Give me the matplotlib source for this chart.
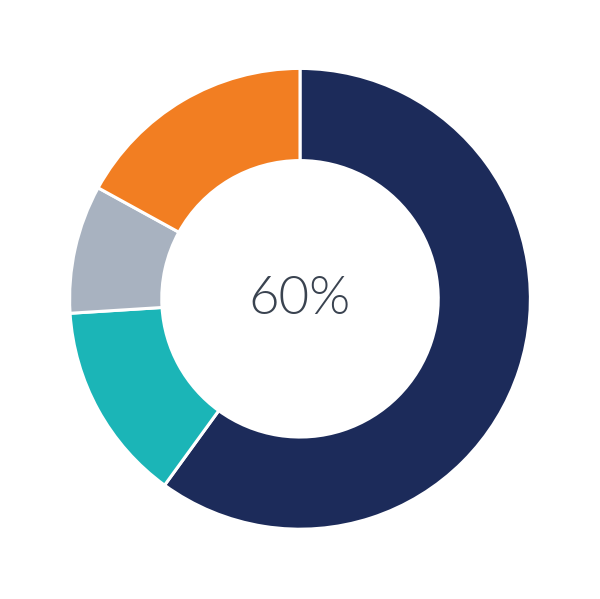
import matplotlib
matplotlib.use("Agg")
import matplotlib.pyplot as plt

labels = ["Navy", "Teal", "Gray", "Orange"]
values = [60, 14, 9, 17]
colors = ["#1c2b5a", "#1bb5b7", "#a8b2c0", "#f27e22"]
center_text = "60%"

fig = plt.figure(figsize=(6.0, 5.99), dpi=100)
ax = fig.add_axes([0, 0, 1, 1])
ax.pie(values, colors=colors, startangle=90, counterclock=False,
       wedgeprops=dict(width=0.40, edgecolor="white", linewidth=2.2),
       radius=1.0, center=(0, 0.003))
ax.text(0, 0.0, center_text, ha="center", va="center", fontsize=38,
        family=["Lato", "DejaVu Sans"], fontweight=300, color="#3a4350")
ax.set_xlim(-1.3, 1.3)
ax.set_ylim(-1.3, 1.3)
ax.set_aspect("equal")
ax.axis("off")
fig.savefig("out.png", dpi=100, facecolor="white")
